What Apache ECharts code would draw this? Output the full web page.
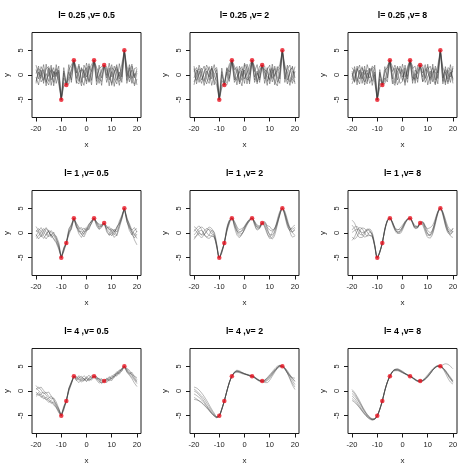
<!DOCTYPE html>
<html><head><meta charset="utf-8">
<script src="https://cdn.jsdelivr.net/npm/echarts@6/dist/echarts.min.js"></script>
<style>html,body{margin:0;padding:0;background:#fff}#c{width:474px;height:474px}</style>
</head><body><div id="c"></div>
<script>
const xGrid = [-20,-19,-18,-17,-16,-15,-14,-13,-12,-11,-10,-9,-8,-7,-6,-5,-4,-3,-2,-1,0,1,2,3,4,5,6,7,8,9,10,11,12,13,14,15,16,17,18,19,20];
const obsX = [-10, -8, -5, 3, 7, 15];
const obsY = [-5, -2, 3, 3, 2, 5];
const xTicks = [-20, -10, 0, 10, 20];
const yTicks = [-5, 0, 5];
const titles = ["l= 0.25 ,v= 0.5", "l= 0.25 ,v= 2", "l= 0.25 ,v= 8", "l= 1 ,v= 0.5", "l= 1 ,v= 2", "l= 1 ,v= 8", "l= 4 ,v= 0.5", "l= 4 ,v= 2", "l= 4 ,v= 8"];

const l025_v05 = [
 [1.1,-0.8,1.7,0.4,-1.5,0.7,2.0,-0.4,1.3,-1.1,-5,-0.6,-2,0.6,-1.0,3,0.8,-1.3,1.5,0.3,-1.8,1.0,2.1,3,0.3,-1.7,1.1,2,-0.6,1.4,-2.1,0.4,1.7,-0.8,1.3,5,0.6,-1.4,1.8,-0.3,0.8],
 [-1.3,0.6,-0.3,2.1,-1.0,-2.0,0.3,1.5,-1.7,0.7,-5,1.5,-2,-1.8,1.3,3,-0.7,1.8,-1.5,1.1,-0.4,2.3,-1.1,3,-1.3,2.0,-0.6,2,1.7,-1.0,0.7,-2.3,1.3,-0.3,2.2,5,-1.1,1.5,-0.7,0.3,-2.0],
 [0.3,1.8,-1.4,-0.6,1.3,1.7,-2.1,0.8,0.1,1.8,-5,-2.2,-2,1.1,2.0,3,1.4,-0.3,-2.2,2.0,0.7,-1.3,0.4,3,1.5,0.4,-2.1,2,-1.5,0.6,2.1,-0.8,-1.8,2.3,-0.4,5,1.8,0.1,-1.7,1.3,1.5],
 [-0.4,-2.0,1.0,-1.7,2.2,-0.3,1.1,-1.5,2.1,-0.7,-5,0.4,-2,-0.8,0.1,3,-1.7,0.7,1.0,-0.6,2.4,0.3,-2.0,3,-0.7,1.3,1.7,2,0.8,-2.2,1.5,1.0,-1.1,0.6,-1.5,5,-0.3,2.1,-1.3,-1.8,0.4],
 [2.0,0.1,-0.7,1.1,-2.2,1.4,-1.0,0.6,-0.3,1.0,-5,-1.5,-2,2.1,-1.5,3,0.4,2.2,-0.8,-2.1,1.5,-1.5,1.3,3,-2.0,-0.3,0.7,2,-0.1,2.4,-0.4,1.8,0.3,-2.1,0.8,5,1.1,-0.6,1.0,-2.2,-0.8],
 [-1.7,1.3,0.7,-1.1,0.3,-1.3,1.5,-2.2,0.6,-1.8,-5,0.8,-2,-0.3,0.8,3,-1.4,-1.8,1.3,0.6,-1.3,1.8,0.7,3,1.0,-0.8,-1.3,2,1.3,-0.3,-1.7,0.6,2.1,-1.3,-0.7,5,-1.7,0.8,2.2,-0.6,1.3]
];
const l025_v2 = [
 [0.7,1.5,-0.4,-1.7,0.8,1.3,-1.1,1.8,-0.1,-1.3,-5,-1.1,-2,1.3,-0.7,3,0.6,-2.0,1.1,1.7,-0.8,0.4,2.0,3,-0.4,0.8,-1.5,2,1.8,-1.3,0.3,1.5,-2.0,0.7,1.4,5,0.3,-1.8,1.0,1.5,-0.6],
 [-1.4,-0.3,2.0,0.4,-2.1,0.3,1.7,-0.8,1.1,1.5,-5,0.7,-2,-1.4,1.7,3,-1.0,1.3,-0.6,-2.2,2.1,-0.3,-1.3,3,1.7,-1.4,0.6,2,-0.8,1.5,-1.8,0.4,1.3,-1.5,0.6,5,1.4,0.6,-1.4,-0.4,1.7],
 [1.8,-1.1,0.1,1.4,-0.6,-1.8,0.6,1.3,-2.0,0.4,-5,-2.6,-2,0.4,2.2,3,1.8,0.3,-1.4,0.8,-1.7,2.2,0.1,3,0.7,2.1,-1.0,2,0.3,-2.1,1.3,-0.7,1.8,-0.4,-1.7,5,-0.8,2.0,-0.3,-1.7,0.8],
 [-0.6,1.0,-1.5,0.7,1.8,-0.8,-1.7,0.4,2.1,-0.6,-5,1.4,-2,-2.0,-0.4,3,-0.4,-1.1,1.8,-0.3,1.0,-1.8,1.1,3,-1.5,-0.1,1.8,2,1.0,0.7,-1.1,2.2,-0.3,1.7,-0.8,5,-1.5,1.3,2.0,-1.0,-1.4],
 [1.3,-1.8,0.8,-1.0,0.3,2.0,0.8,-2.1,0.1,1.1,-5,-2.0,-2,1.5,0.6,3,1.1,1.7,-1.8,1.3,0.4,-1.0,-0.6,3,-1.0,0.4,-0.6,2,-1.7,1.1,2.0,-1.4,0.1,1.0,2.1,5,0.8,-1.0,0.4,1.8,-1.8],
 [-2.0,0.4,1.3,-0.1,-1.3,0.8,-0.4,1.4,-1.1,-2.1,-5,0.1,-2,0.6,-1.3,3,-1.5,-0.4,0.7,-1.1,2.4,1.3,-1.8,3,1.3,-1.8,1.0,2,0.6,-0.4,-0.8,1.1,-1.3,-2.2,0.3,5,2.0,-0.1,-2.1,0.7,0.4]
];
const l025_v8 = [
 [0.4,-1.5,1.3,0.3,-0.8,1.8,-1.3,0.7,1.5,-1.0,-5,-0.8,-2,1.7,-0.6,3,0.1,-1.7,1.5,0.7,-1.1,2.0,-0.3,3,0.6,-1.1,1.4,2,-1.3,0.8,1.7,-1.8,0.3,1.3,-0.7,5,0.7,-1.5,1.1,-0.4,1.4],
 [-1.0,1.7,-0.6,-1.8,1.4,0.1,1.0,-1.7,-0.4,2.0,-5,1.1,-2,-1.1,1.0,3,-0.8,1.4,-1.0,1.8,0.6,-1.5,1.7,3,-1.7,1.0,0.3,2,2.0,-1.5,-0.3,0.8,-1.4,1.8,0.4,5,-1.3,1.7,-0.8,2.1,-1.1],
 [1.5,0.6,-2.0,1.0,-0.3,-1.4,2.1,0.3,-1.3,0.6,-5,-2.5,-2,0.3,1.8,3,1.7,0.4,-2.0,-0.7,2.2,-0.4,0.8,3,1.3,1.8,-1.5,2,0.4,2.1,-2.0,0.1,1.5,-1.0,2.0,5,1.5,0.3,-1.8,0.6,-0.7],
 [-1.8,-0.4,0.8,2.0,-1.7,1.1,-0.7,1.4,0.8,-1.5,-5,0.3,-2,-1.7,-0.1,3,-1.3,-2.1,0.8,1.3,-0.4,0.7,-1.5,3,-0.6,-0.7,2.0,2,-0.4,1.3,0.6,-1.1,2.2,-1.7,1.0,5,0.4,-2.0,1.5,1.1,-1.7],
 [0.8,-1.3,1.8,-0.8,0.6,-2.0,0.4,-0.6,1.8,1.3,-5,-1.7,-2,1.0,1.4,3,0.7,2.0,0.3,-1.7,-1.3,1.4,-0.8,3,-1.1,0.3,-0.8,2,1.4,-0.7,1.1,1.8,-0.6,-2.0,0.3,5,-0.6,1.1,0.4,-1.5,1.8],
 [-0.3,1.1,-1.3,0.6,1.7,-0.7,-1.8,1.3,-2.1,0.1,-5,0.6,-2,-0.6,-1.4,3,-1.8,-0.6,1.8,0.3,1.1,-2.1,1.3,3,1.8,-1.7,0.7,2,-1.4,-0.6,2.2,-0.7,0.7,0.6,-1.8,5,-1.8,0.7,-1.4,0.3,0.8]
];
const l1_v05 = [
 [0.6,0.1,-0.8,-0.2,0.9,0.3,-0.6,-1.1,-1.8,-3.0,-5,-3.4,-2,0.2,1.4,3,1.6,0.4,-0.3,0.6,1.2,1.7,2.4,3,1.9,1.2,1.5,2,0.8,0.2,-0.6,0.3,1.1,2.0,3.3,5,2.6,0.8,0.3,-0.5,0.4],
 [-0.7,0.4,1.1,0.2,-0.5,0.6,0.1,-0.4,-0.9,-2.6,-5,-3.8,-2,-0.4,0.9,3,1.1,0.8,-0.2,-0.8,0.3,1.0,2.0,3,2.3,1.6,1.3,2,1.2,0.9,0.1,-0.9,-0.3,1.4,2.9,5,3.0,1.4,-0.3,-1.0,-0.2],
 [1.3,0.5,-0.4,-1.1,-0.3,0.4,-0.6,0.2,-1.2,-2.2,-5,-2.9,-2,0.6,1.8,3,1.9,0.9,1.1,0.2,0.8,1.5,2.6,3,1.4,0.7,1.1,2,1.5,0.6,0.9,0.2,0.8,2.4,3.6,5,2.2,1.2,0.6,1.1,0.2],
 [-1.1,-0.6,0.3,0.9,0.2,-0.8,-0.2,-1.3,-2.0,-3.3,-5,-3.6,-2,-0.1,1.2,3,1.2,-0.2,-0.9,0.1,0.4,1.3,1.9,3,2.1,1.8,1.7,2,0.6,-0.5,-0.1,0.8,0.2,1.6,3.1,5,2.8,1.9,0.6,-0.2,-1.1],
 [0.2,0.9,0.4,-0.5,-1.2,-0.4,0.5,-0.2,-0.6,-1.9,-5,-3.2,-2,0.9,1.6,3,2.0,1.2,0.6,1.0,0.5,1.9,2.3,3,1.7,0.8,1.4,2,0.9,1.3,0.4,-0.4,1.3,1.8,3.4,5,2.4,0.5,-0.4,0.6,0.9],
 [-0.3,-1.2,-0.5,0.5,1.1,0.3,-0.9,-0.5,-1.5,-2.8,-5,-3.1,-2,0.3,0.7,3,1.4,0.2,0.4,-0.3,0.9,0.7,2.2,3,2.2,1.1,1.7,2,0.2,-0.4,0.7,0.5,-0.6,1.0,2.8,5,3.2,1.6,0.2,-1.4,-2.4]
];
const l1_v2 = [
 [-0.4,0.2,0.9,1.2,0.8,0.1,-0.5,-0.6,-0.9,-2.6,-5,-3.7,-2,0.6,2.3,3,1.9,0.6,-0.2,-0.1,0.6,1.6,2.5,3,2.1,1.2,1.3,2,1.7,0.6,-0.3,-0.4,0.5,2.0,3.9,5,3.6,1.6,0.4,0.2,0.6],
 [1.3,0.9,0.2,-0.4,-0.3,0.3,0.8,0.4,-0.6,-2.9,-5,-3.6,-2,0.9,2.5,3,1.5,0.2,-0.6,-0.3,0.8,1.9,2.7,3,1.8,0.8,1.1,2,1.9,1.2,0.6,0.4,1.0,2.4,4.2,5,3.9,2.2,1.0,0.8,1.2],
 [-0.9,-0.5,0.4,0.5,-0.2,-0.8,-0.4,0.5,0.2,-2.2,-5,-3.9,-2,0.4,2.1,3,2.2,1.0,0.3,0.4,1.1,1.8,2.4,3,2.3,1.4,1.2,2,1.4,0.1,-1.1,-0.9,0.2,1.8,3.6,5,4.1,2.3,0.3,-0.8,-0.6],
 [0.3,1.0,1.4,0.7,-0.3,-0.9,-1.1,-0.6,-0.8,-2.8,-5,-3.5,-2,1.1,2.6,3,1.2,-0.4,-0.9,-0.2,0.9,2.1,2.8,3,2.0,1.1,1.0,2,2.1,1.5,1.3,0.7,0.9,2.7,4.4,5,3.4,1.3,0.6,1.2,1.6],
 [-1.3,-0.6,-0.1,-0.3,0.4,0.9,0.6,-0.2,-0.5,-2.5,-5,-4.1,-2,0.2,1.9,3,2.4,1.3,0.7,0.9,1.3,2.0,2.6,3,2.4,1.6,1.5,2,1.2,-0.2,-0.8,0.1,0.9,2.2,3.8,5,3.8,1.9,0.9,0.1,-0.5],
 [0.7,0.3,-0.5,-0.9,-0.4,0.5,1.2,0.9,-0.1,-2.4,-5,-3.8,-2,0.7,2.4,3,1.7,0.4,0.1,0.5,1.4,2.2,2.6,3,1.6,0.6,0.9,2,2.3,1.0,-0.5,-1.2,-0.4,1.6,3.7,5,4.4,2.7,1.1,0.3,0.9]
];
const l1_v8 = [
 [2.6,2.0,0.8,-0.2,-0.4,0.2,0.8,0.6,-0.6,-2.8,-5,-3.8,-2,0.8,2.5,3,2.0,0.8,0.2,0.4,1.3,2.3,2.9,3,2.2,1.3,1.3,2,2.0,0.9,-0.2,-0.3,0.8,2.6,4.3,5,3.8,1.6,0.0,-0.3,0.4],
 [-1.5,-0.8,0.4,1.1,0.9,0.0,-0.6,-0.5,-0.8,-2.6,-5,-3.9,-2,0.5,2.4,3,2.3,1.0,0.1,-0.1,0.6,1.8,2.7,3,2.0,1.0,1.1,2,2.3,1.5,0.5,0.1,0.7,2.3,4.1,5,4.0,2.2,0.8,0.4,0.9],
 [1.6,0.9,-0.2,-0.9,-0.9,-0.2,0.6,0.8,0.1,-2.3,-5,-4.0,-2,0.6,2.5,3,2.1,0.9,0.6,1.0,1.6,2.3,2.8,3,2.1,1.2,1.2,2,1.6,0.2,-0.9,-1.0,-0.1,1.8,3.9,5,4.2,2.4,0.6,-0.6,-0.9],
 [0.6,1.2,1.3,0.6,-0.3,-0.8,-0.6,0.2,-0.2,-2.7,-5,-3.7,-2,0.9,2.6,3,1.8,0.5,-0.1,0.1,0.9,2.0,2.8,3,2.3,1.5,1.4,2,2.1,1.3,0.9,1.1,1.6,2.9,4.4,5,3.6,1.5,0.3,0.2,1.0],
 [-0.8,-1.2,-0.7,0.3,1.0,0.9,0.2,-0.5,-0.6,-2.5,-5,-3.9,-2,0.7,2.4,3,2.2,1.1,0.7,0.7,1.2,2.1,2.7,3,1.9,0.9,1.0,2,2.2,1.2,-0.1,-0.6,0.1,2.0,4.0,5,4.3,2.8,1.3,0.6,0.2],
 [0.1,0.5,0.8,0.5,0.1,0.2,0.6,0.4,-0.4,-2.6,-5,-3.8,-2,0.7,2.5,3,2.1,0.7,0.2,0.3,1.0,2.0,2.8,3,2.1,1.2,1.2,2,1.8,0.6,-0.5,-0.4,0.5,2.4,4.2,5,3.9,1.9,0.4,-0.1,0.3]
];
const l4_v05 = [
 [0.6,0.1,-0.5,-0.2,-0.9,-1.4,-1.1,-1.9,-2.6,-3.8,-5,-3.3,-2,0.4,1.7,3,2.4,2.9,2.1,2.6,1.9,2.5,2.8,3,2.5,1.9,2.3,2,2.6,2.2,2.9,3.4,3.0,3.9,4.4,5,4.1,3.5,3.8,2.9,2.3],
 [-0.8,-0.3,-1.0,-1.6,-1.2,-2.0,-2.5,-2.2,-3.1,-4.2,-5,-3.6,-2,-0.1,1.4,3,2.7,2.2,2.5,3.1,2.6,2.2,2.6,3,2.2,1.6,1.8,2,2.2,2.7,2.4,2.9,3.6,3.4,4.1,5,4.4,3.9,3.1,2.4,1.8],
 [1.1,0.5,0.8,0.1,-0.4,-0.2,-1.0,-1.6,-2.9,-3.6,-5,-3.0,-2,0.6,1.9,3,2.2,1.7,2.3,2.0,2.7,3.2,2.6,3,2.8,2.4,1.7,2,2.0,2.5,3.1,2.8,3.5,4.2,4.0,5,3.8,3.2,2.5,1.6,0.9],
 [-0.2,-0.9,-0.6,-1.3,-1.8,-1.5,-2.3,-2.8,-3.4,-4.4,-5,-3.9,-2,0.2,1.5,3,2.9,2.4,1.8,2.2,2.9,2.4,2.2,3,2.7,2.1,1.5,2,2.4,2.0,2.6,3.2,3.9,3.6,4.6,5,4.6,4.2,3.4,3.0,2.7],
 [0.3,0.8,0.2,-0.6,-0.3,-1.1,-1.6,-1.4,-2.2,-3.5,-5,-3.4,-2,0.5,1.8,3,2.1,2.6,3.0,2.4,2.0,2.7,3.1,3,2.4,2.6,2.1,2,1.7,2.3,2.1,2.8,3.3,3.8,4.3,5,3.9,3.3,2.8,2.2,1.5],
 [-1.1,-0.6,-1.3,-0.9,-1.7,-2.3,-1.9,-2.6,-3.3,-4.0,-5,-3.5,-2,0.3,1.6,3,2.6,3.1,2.7,2.3,2.5,2.0,2.5,3,2.9,2.3,2.5,2,2.4,2.9,2.5,3.1,3.7,4.2,4.5,5,4.3,3.6,3.3,2.6,2.0]
];
const l4_v2 = [
 [0.8,0.6,0.2,-0.4,-1.1,-1.9,-2.8,-3.7,-4.5,-5.2,-5,-3.7,-2,-0.1,1.7,3,3.8,4.1,3.9,3.6,3.4,3.3,3.2,3,2.7,2.3,2.0,2,2.2,2.7,3.3,3.9,4.5,5.0,5.2,5,4.4,3.6,3.0,2.7,2.6],
 [0.0,-0.3,-0.8,-1.4,-2.1,-2.9,-3.6,-4.3,-4.9,-5.3,-5,-3.7,-2,0.0,1.8,3,3.6,3.8,3.8,3.7,3.5,3.3,3.1,3,2.8,2.5,2.2,2,2.0,2.3,2.8,3.4,4.0,4.5,4.9,5,4.6,3.9,3.0,2.1,1.3],
 [-1.3,-1.6,-2.0,-2.4,-2.9,-3.4,-4.0,-4.6,-5.1,-5.4,-5,-3.6,-2,-0.1,1.7,3,3.7,4.0,3.9,3.7,3.5,3.4,3.2,3,2.6,2.3,2.1,2,1.7,1.7,2.2,3.0,3.8,4.6,5.1,5,4.6,3.6,2.4,1.2,0.3],
 [-1.7,-1.8,-2.0,-2.3,-2.8,-3.3,-3.9,-4.5,-5.0,-5.4,-5,-3.7,-2,0.0,1.7,3,3.8,4.2,4.1,3.8,3.5,3.3,3.1,3,2.8,2.4,2.1,2,2.1,2.5,3.0,3.6,4.2,4.7,5.0,5,4.7,4.1,3.3,2.5,1.9],
 [0.4,0.0,-0.5,-1.0,-1.6,-2.4,-3.2,-4.0,-4.7,-5.2,-5,-3.7,-2,-0.1,1.8,3,3.7,3.9,3.7,3.5,3.4,3.2,3.1,3,2.7,2.3,2.0,2,1.9,2.1,2.6,3.3,4.1,4.7,5.1,5,4.5,3.8,3.2,2.6,2.0],
 [-0.6,-0.9,-1.3,-1.8,-2.4,-3.1,-3.8,-4.5,-5.0,-5.3,-5,-3.7,-2,0.0,1.7,3,3.8,4.0,3.9,3.7,3.5,3.3,3.1,3,2.8,2.4,2.1,2,2.2,2.6,3.1,3.7,4.3,4.8,5.1,5,4.4,3.6,2.6,1.6,0.8]
];
const l4_v8 = [
 [0.3,-0.3,-1.1,-2.0,-3.0,-3.9,-4.7,-5.3,-5.7,-5.7,-5,-3.7,-2,0.1,1.8,3,3.9,4.3,4.4,4.2,3.9,3.6,3.3,3,2.6,2.3,2.0,2,2.1,2.4,2.9,3.5,4.2,4.7,5.0,5,4.7,4.2,3.5,2.8,2.1],
 [-0.5,-1.0,-1.7,-2.5,-3.4,-4.2,-4.9,-5.4,-5.8,-5.7,-5,-3.7,-2,0.1,1.8,3,3.9,4.3,4.3,4.1,3.8,3.5,3.2,3,2.7,2.4,2.1,2,2.1,2.5,3.0,3.6,4.2,4.7,5.0,5,4.7,4.1,3.3,2.5,1.7],
 [-1.5,-2.0,-2.6,-3.3,-4.0,-4.7,-5.2,-5.6,-5.8,-5.6,-5,-3.7,-2,0.1,1.8,3,3.9,4.2,4.2,4.0,3.7,3.4,3.2,3,2.7,2.3,2.0,2,2.2,2.7,3.3,3.9,4.5,4.9,5.1,5,4.6,3.9,3.1,2.4,1.9],
 [-1.9,-2.3,-2.8,-3.4,-4.1,-4.7,-5.3,-5.7,-5.9,-5.7,-5,-3.7,-2,0.1,1.8,3,4.0,4.4,4.5,4.3,4.0,3.6,3.3,3,2.6,2.2,2.0,2,2.0,2.3,2.8,3.5,4.2,4.8,5.1,5,4.5,3.6,2.6,1.8,1.4],
 [0.0,-0.6,-1.4,-2.3,-3.2,-4.1,-4.8,-5.3,-5.6,-5.6,-5,-3.7,-2,0.1,1.8,3,3.8,4.1,4.1,3.9,3.7,3.5,3.2,3,2.7,2.4,2.1,2,2.1,2.5,3.1,3.8,4.4,4.8,5.0,5,5.3,5.5,5.4,5.0,4.5],
 [-1.0,-1.5,-2.2,-3.0,-3.8,-4.5,-5.1,-5.5,-5.7,-5.6,-5,-3.7,-2,0.1,1.8,3,3.9,4.3,4.3,4.1,3.8,3.5,3.2,3,2.7,2.3,2.0,2,2.1,2.5,3.0,3.6,4.3,4.8,5.1,5,4.6,4.0,3.3,2.6,2.0]
];

const panelLines = [l025_v05, l025_v2, l025_v8, l1_v05, l1_v2, l1_v8, l4_v05, l4_v2, l4_v8];
const smoothing = [false, false, false, false, 0.3, 0.3, false, 0.3, 0.3];

const FONT = 'Liberation Sans';
const INK = '#1a1a1a';
const grids = [], xAxes = [], yAxes = [], series = [], graphics = [];
const bad = [];

panelLines.forEach((lines, p) => {
  const r = Math.floor(p / 3), c = p % 3;
  const left = 158 * c + 32, top = 158 * r + 32.5;
  const lineColor = r === 0 ? 'rgba(60,60,60,0.5)' : 'rgba(60,60,60,0.4)';
  grids.push({left: left, top: top, width: 109, height: 85, show: true,
    borderColor: INK, borderWidth: 1, backgroundColor: 'transparent'});
  xAxes.push({gridIndex: p, type: 'value', min: -21.6, max: 21.6, position: 'bottom',
    splitLine: {show: false}, axisLine: {show: false, onZero: false},
    axisTick: {show: true, inside: false, length: 4, customValues: xTicks, lineStyle: {color: INK, width: 1}},
    axisLabel: {customValues: xTicks, fontSize: 7.5, margin: 7, color: INK, fontFamily: FONT},
    name: 'x', nameLocation: 'middle', nameGap: 23,
    nameTextStyle: {fontSize: 8, color: INK, fontFamily: FONT}});
  yAxes.push({gridIndex: p, type: 'value', min: -8.6, max: 8.6, position: 'left',
    splitLine: {show: false}, axisLine: {show: false, onZero: false},
    axisTick: {show: true, inside: false, length: 4, customValues: yTicks, lineStyle: {color: INK, width: 1}},
    axisLabel: {customValues: yTicks, fontSize: 7.5, margin: 7, rotate: 90, color: INK, fontFamily: FONT},
    name: 'y', nameLocation: 'middle', nameGap: 21,
    nameTextStyle: {fontSize: 8, color: INK, fontFamily: FONT}});
  graphics.push({type: 'text', x: left + 54.5, y: 158 * r + 16,
    style: {text: titles[p], align: 'center', verticalAlign: 'middle',
      fontSize: 8.8, fontWeight: 'bold', fontFamily: FONT, fill: '#000'}});
  lines.forEach((line, k) => {
    if (line.length !== xGrid.length) bad.push(p + ':' + k + '=' + line.length);
    series.push({type: 'line', xAxisIndex: p, yAxisIndex: p,
      data: xGrid.map((x, i) => [x, line[i]]),
      symbol: 'none', showSymbol: false, smooth: smoothing[p], silent: true,
      lineStyle: {color: lineColor, width: 0.9}, z: 2});
  });
  series.push({type: 'scatter', xAxisIndex: p, yAxisIndex: p,
    data: obsX.map((x, i) => [x, obsY[i]]), symbolSize: 4.5,
    itemStyle: {color: '#e8121f'}, z: 5, silent: true});
});

const chart = echarts.init(document.getElementById('c'), null, {renderer: 'canvas'});
chart.setOption({animation: false, backgroundColor: '#fff', grid: grids, xAxis: xAxes, yAxis: yAxes, series: series, graphic: graphics});
if (bad.length) throw new Error('bad line lengths: ' + bad.join(', '));
</script></body></html>
